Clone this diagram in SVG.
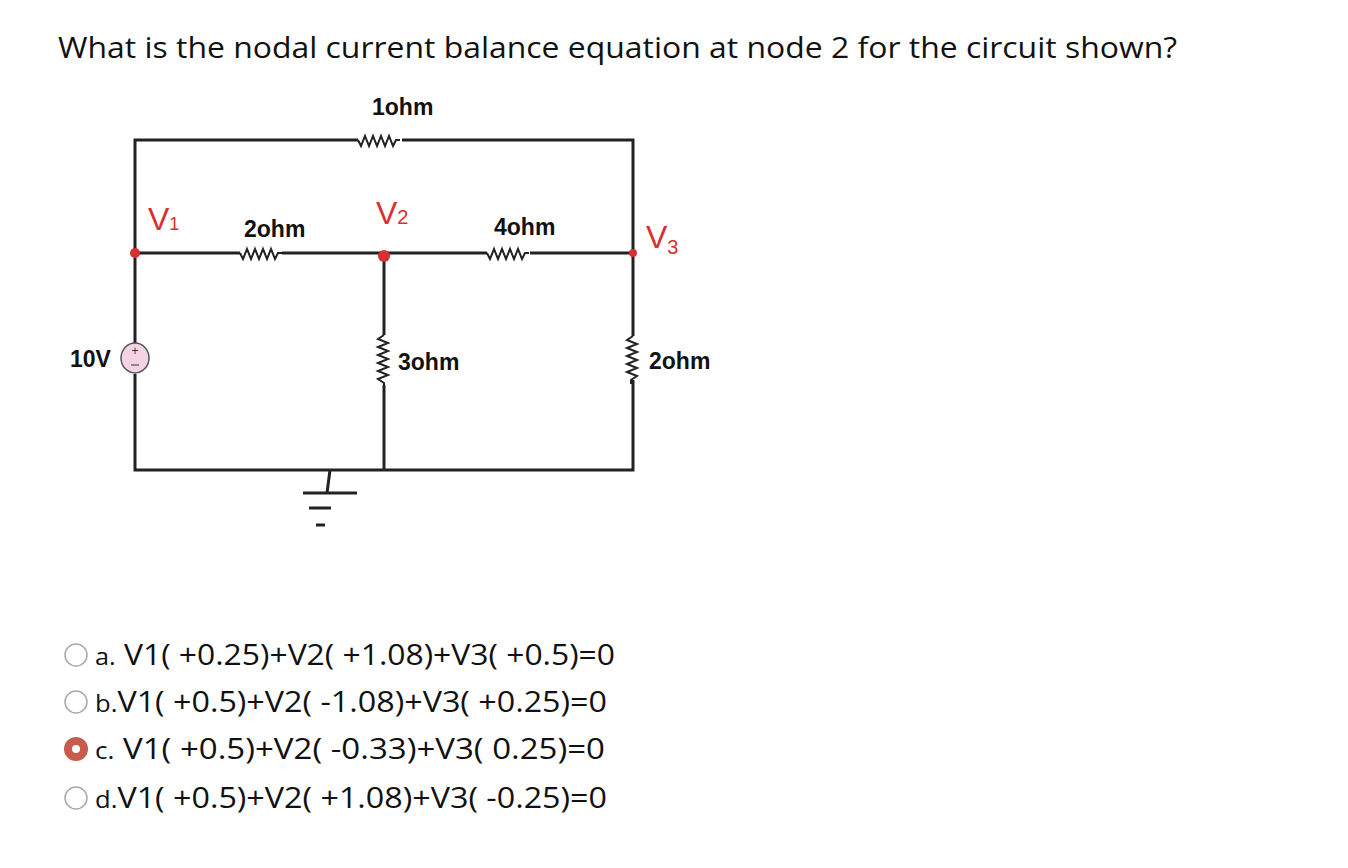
<svg xmlns="http://www.w3.org/2000/svg" width="1348" height="868" viewBox="0 0 1348 868">
<style>
.w{stroke:#222;stroke-width:3;fill:none}
.r{stroke:#222;stroke-width:2;fill:none}
.lbl{font-family:"Liberation Sans",Arial,sans-serif;font-weight:bold;font-size:23px;fill:#111}
.hand{font-family:"Liberation Sans",Arial,sans-serif;font-size:32px;fill:#d83030}
.opt{font-family:"Open Sans","Noto Sans",sans-serif;font-size:29px;fill:#111}
.rad{fill:#fff;stroke:#aaa;stroke-width:1.5}
</style>
<rect width="1348" height="868" fill="#fff"/>
<text x="58" y="58" font-family="Open Sans,Noto Sans,sans-serif" font-size="30" fill="#111" textLength="1119" lengthAdjust="spacingAndGlyphs">What is the nodal current balance equation at node 2 for the circuit shown?</text>
<g id="connectors">
<path class="w" d="M135 346V140H358M402 140H633V336M633 380V470H135V374"/>
<path class="w" d="M135 253H240M282 253H487M530 253H633"/>
<path class="w" d="M384 253V335M384 385V470"/>
<path class="w" d="M330 470L327 493"/>
</g>
<g id="r1ohm"><path class="r" d="M358 140l3 6l4 -10l4 10l4 -10l4 10l4 -10l4 10l4 -10l4 10l3 -6h4"/><text class="lbl" x="372" y="115">1ohm</text></g>
<g id="r2ohm"><path class="r" d="M240 253l3 6l4 -10l4 10l4 -10l4 10l4 -10l4 10l4 -10l4 10l3 -6h4"/><text class="lbl" x="244" y="237">2ohm</text></g>
<g id="r4ohm"><path class="r" d="M487 253l3 6l4 -10l4 10l4 -10l4 10l4 -10l4 10l4 -10l4 10l3 -6h4"/><text class="lbl" x="494" y="235">4ohm</text></g>
<g id="r3ohm"><path class="r" d="M384 335l-6 4l10 4l-10 4l10 4l-10 4l10 4l-10 4l10 4l-10 4l10 4l-10 4l6 4v4"/><text class="lbl" x="398" y="370">3ohm</text></g>
<g id="r2ohmb"><path class="r" d="M633 336l-6 4l10 4l-10 4l10 4l-10 4l10 4l-10 4l10 4l-10 4l10 4l-6 4v4"/><text class="lbl" x="649" y="369">2ohm</text></g>
<g id="source"><ellipse cx="135" cy="358" rx="14" ry="15" fill="#f4d4e4" stroke="#555" stroke-width="1.5"/><text x="135" y="355" font-family="Liberation Sans,sans-serif" font-size="12" text-anchor="middle" fill="#333">+</text><line x1="131" y1="365" x2="139" y2="365" stroke="#333"/><text class="lbl" x="70" y="367">10V</text></g>
<g id="ground"><path stroke="#222" stroke-width="3" d="M303 493H357M309 508H331M316 525H325"/></g>
<g id="nodes" fill="#d83030"><circle cx="135" cy="253" r="5"/><circle cx="384" cy="256" r="6"/><circle cx="633" cy="253" r="4"/></g>
<text class="hand" x="148" y="230">V<tspan font-size="18">1</tspan></text>
<text class="hand" x="376" y="224">V<tspan font-size="20">2</tspan></text>
<text class="hand" x="646" y="248">V<tspan font-size="20" dy="6">3</tspan></text>
<g id="options">
<circle class="rad" cx="76" cy="655" r="11"/><text class="opt" x="95" y="665" textLength="520" lengthAdjust="spacingAndGlyphs"><tspan font-size="23">a.</tspan> V1( +0.25)+V2( +1.08)+V3( +0.5)=0</text>
<circle class="rad" cx="76" cy="702" r="11"/><text class="opt" x="95" y="712" textLength="512" lengthAdjust="spacingAndGlyphs"><tspan font-size="23">b.</tspan>V1( +0.5)+V2( -1.08)+V3( +0.25)=0</text>
<circle cx="76" cy="749" r="12" fill="#c95b4b"/><circle cx="76" cy="749" r="4" fill="#fff"/><text class="opt" x="95" y="759" textLength="510" lengthAdjust="spacingAndGlyphs"><tspan font-size="23">c.</tspan> V1( +0.5)+V2( -0.33)+V3( 0.25)=0</text>
<circle class="rad" cx="76" cy="798" r="11"/><text class="opt" x="95" y="808" textLength="512" lengthAdjust="spacingAndGlyphs"><tspan font-size="23">d.</tspan>V1( +0.5)+V2( +1.08)+V3( -0.25)=0</text>
</g>
</svg>
